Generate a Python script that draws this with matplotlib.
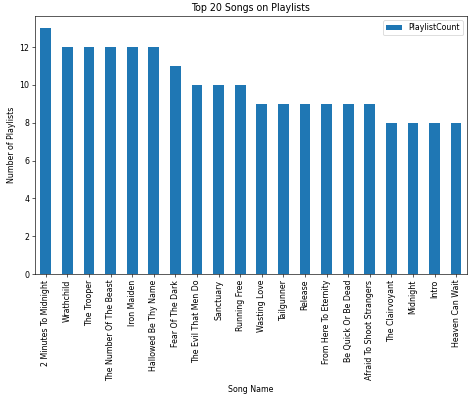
import matplotlib
matplotlib.use('Agg')
import matplotlib.pyplot as plt
import pandas as pd

songs = ['2 Minutes To Midnight', 'Wrathchild', 'The Trooper', 'The Number Of The Beast',
         'Iron Maiden', 'Hallowed Be Thy Name', 'Fear Of The Dark', 'The Evil That Men Do',
         'Sanctuary', 'Running Free', 'Wasting Love', 'Tailgunner', 'Release',
         'From Here To Eternity', 'Be Quick Or Be Dead', 'Afraid To Shoot Strangers',
         'The Clairvoyant', 'Midnight', 'Intro', 'Heaven Can Wait']
counts = [13, 12, 12, 12, 12, 12, 11, 10, 10, 10, 9, 9, 9, 9, 9, 9, 8, 8, 8, 8]

df = pd.DataFrame({'Song Name': songs, 'PlaylistCount': counts}).set_index('Song Name')

dpi = 57
fig = plt.figure(figsize=(474 / dpi, 399 / dpi), dpi=dpi)
ax = fig.add_axes([0.074, 0.313, 0.911, 0.647])
df.plot(kind='bar', ax=ax)
ax.set_title('Top 20 Songs on Playlists')
ax.set_ylabel('Number of Playlists')
ax.set_xlabel('Song Name')

fig.savefig('out.png', dpi=dpi)
